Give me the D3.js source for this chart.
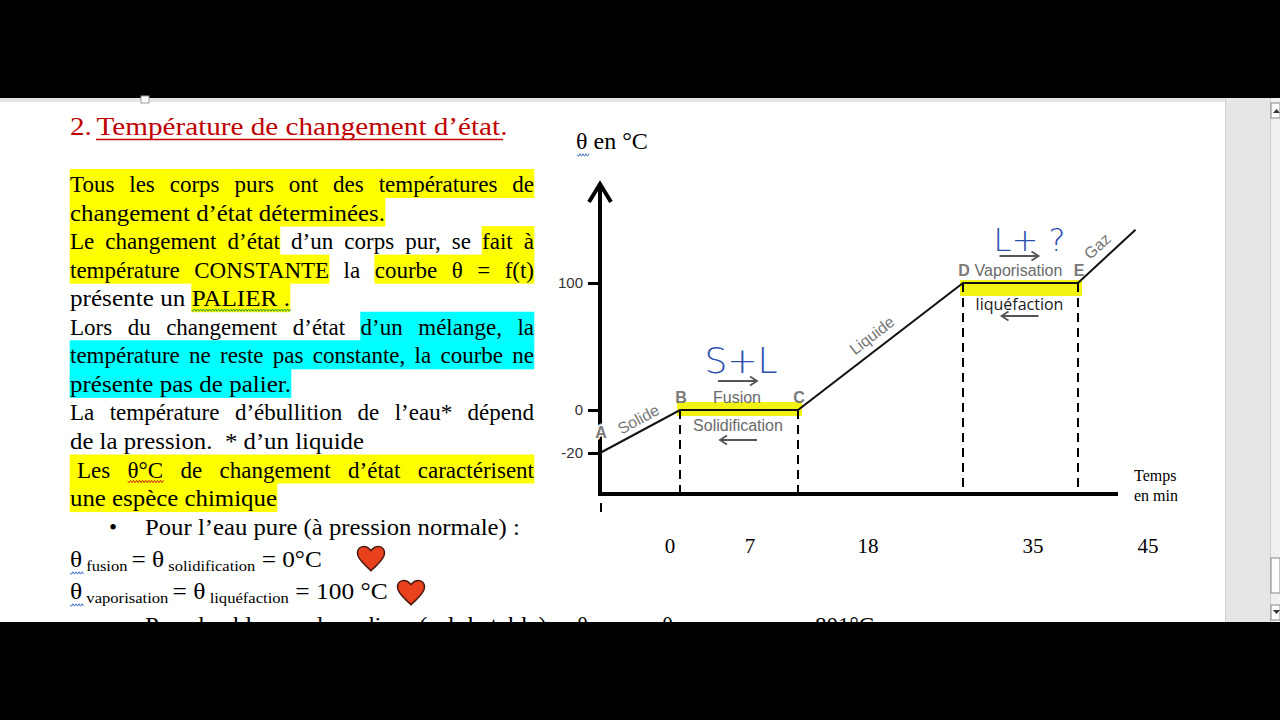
<!DOCTYPE html>
<html>
<head>
<meta charset="utf-8">
<script src="https://cdn.jsdelivr.net/npm/d3@7"></script>
<style>
  html, body { margin: 0; padding: 0; background: #000; overflow: hidden; }
  svg { display: block; }
  text { white-space: pre; }
</style>
</head>
<body>
<svg id="page" width="1280" height="720"></svg>
<script>
// --- chart data (courbe de changement d'état de l'eau) ---
const pointNames = ['A', 'B', 'C', 'D', 'E'];
const timeTicks = [0, 7, 18, 35, 45];          // temps en min (A..E)
const curveTime = [0, 7, 18, 35, 45, 50];
const curveTemp = [-20, 0, 0, 100, 100, 142];
const tempTicks = [-20, 0, 100];
const phaseNames = ['Solide', 'Liquide', 'Gaz']; // segments A-B, C-D, E-...
const phaseSegments = [[0, 1], [2, 3], [4, 5]];
const plateauStart = [1, 3];                    // B-C and D-E
const plateauTop = ['Fusion', 'Vaporisation'];
const plateauBottom = ['Solidification', 'liquéfaction'];
const plateauMix = ['S+L', 'L+ ?'];

// --- document text ---
const docLines = [
  { x0: 70, x1: 534, just: true,  segs: [['Tous les corps purs ont des températures de', 'y']] },
  { x0: 70, x1: 385, just: false, segs: [['changement d’état déterminées.', 'y']] },
  { x0: 70, x1: 534, just: true,  segs: [['Le changement d’état', 'y'], ['d’un corps pur, se', null], ['fait à', 'y']] },
  { x0: 70, x1: 534, just: true,  segs: [['température CONSTANTE', 'y'], ['la', null], ['courbe θ = f(t)', 'y']] },
  { x0: 70, x1: 290, just: false, segs: [['présente un', null], ['PALIER .', 'y']] },
  { x0: 70, x1: 534, just: true,  segs: [['Lors du changement d’état', null], ['d’un mélange, la', 'c']] },
  { x0: 70, x1: 534, just: true,  segs: [['température ne reste pas constante, la courbe ne', 'c']] },
  { x0: 70, x1: 291, just: false, segs: [['présente pas de palier.', 'c']] },
  { x0: 70, x1: 534, just: true,  segs: [['La température d’ébullition de l’eau* dépend', null]] },
  { x0: 70, x1: 364, just: false, segs: [['de la pression.  * d’un liquide', null]] },
  { x0: 77, x1: 534, just: true,  lead: 7, segs: [['Les θ°C de changement d’état caractérisent', 'y']] },
  { x0: 70, x1: 277, just: false, segs: [['une espèce chimique', 'y']] }
];
const hlColor = { y: '#ffff00', c: '#00ffff' };

const svg = d3.select('#page');
const serif = '"Liberation Serif", "Times New Roman", serif';
const sans = '"Liberation Sans", Arial, sans-serif';

// --- window frame ---
svg.append('rect').attr('width', 1280).attr('height', 720).attr('fill', '#000');
svg.append('rect').attr('x', 0).attr('y', 98).attr('width', 1225).attr('height', 524).attr('fill', '#fff');
svg.append('rect').attr('x', 0).attr('y', 98).attr('width', 1270).attr('height', 4).attr('fill', '#e4e4e4');
svg.append('rect').attr('x', 141).attr('y', 96).attr('width', 8).attr('height', 7)
  .attr('fill', '#fff').attr('stroke', '#999').attr('stroke-width', 1);
svg.append('rect').attr('x', 1225).attr('y', 98).attr('width', 45).attr('height', 524).attr('fill', '#e6e6e6');
svg.append('line').attr('x1', 1225.5).attr('x2', 1225.5).attr('y1', 98).attr('y2', 622).attr('stroke', '#d4d4d4');
svg.append('rect').attr('x', 1270).attr('y', 98).attr('width', 10).attr('height', 524).attr('fill', '#f0f0f0');
svg.append('line').attr('x1', 1270.5).attr('x2', 1270.5).attr('y1', 98).attr('y2', 622).attr('stroke', '#cfcfcf');
svg.append('rect').attr('x', 1271).attr('y', 103).attr('width', 9).attr('height', 15).attr('fill', '#fff').attr('stroke', '#888');
svg.append('path').attr('d', 'M1273,113 L1276.5,109 L1280,113 Z').attr('fill', '#333');
svg.append('rect').attr('x', 1271).attr('y', 558).attr('width', 9).attr('height', 35).attr('fill', '#fff').attr('stroke', '#888');
svg.append('rect').attr('x', 1271).attr('y', 605).attr('width', 9).attr('height', 15).attr('fill', '#fff').attr('stroke', '#888');
svg.append('path').attr('d', 'M1273,610 L1276.5,614 L1280,610 Z').attr('fill', '#333');

// --- helpers ---
function wavy(x0, x1, yy, color) {
  let d = `M${x0},${yy}`;
  for (let xx = x0, k = 0; xx < x1; xx += 1.5, k++) d += ` L${xx + 1.5},${yy + (k % 2 ? -1.2 : 1.2)}`;
  svg.append('path').attr('d', d).attr('fill', 'none').attr('stroke', color).attr('stroke-width', 1);
}

function heart(cx, cy, w) {
  const s = w / 2;
  return `M${cx},${cy + s * 0.95} C${cx - s * 0.3},${cy + s * 0.6} ${cx - s},${cy + s * 0.15} ${cx - s},${cy - s * 0.35}` +
    ` C${cx - s},${cy - s * 0.9} ${cx - s * 0.4},${cy - s * 1.05} ${cx},${cy - s * 0.55}` +
    ` C${cx + s * 0.4},${cy - s * 1.05} ${cx + s},${cy - s * 0.9} ${cx + s},${cy - s * 0.35}` +
    ` C${cx + s},${cy + s * 0.15} ${cx + s * 0.3},${cy + s * 0.6} ${cx},${cy + s * 0.95} Z`;
}

function textWidth(str, size, family) {
  const t = svg.append('text').attr('font-family', family).attr('font-size', size).text(str);
  const w = t.node().getComputedTextLength();
  t.remove();
  return w;
}

// fit a text element into [x0, x1]
function fitText(sel, x0, x1, yy) {
  const w = sel.node().getComputedTextLength();
  sel.attr('transform', `translate(${x0},${yy}) scale(${(x1 - x0) / w},1)`);
}

const bodySize = 23;

// lay out one document line, word by word
function layoutLine(line, baseY) {
  const g = svg.append('g').attr('transform', `translate(${line.x0},${baseY})`);
  const hlG = g.append('g'), txG = g.append('g');
  const words = [];
  line.segs.forEach(([t, hl], si) => {
    t.split(' ').forEach(w => { if (w !== '') words.push({ w, hl, si }); else if (words.length) words[words.length - 1].extra = (words[words.length - 1].extra || 0) + 1; });
  });
  const space = textWidth('x x', bodySize, serif) - textWidth('xx', bodySize, serif);
  words.forEach(d => {
    d.el = txG.append('text').attr('font-family', serif).attr('font-size', bodySize).attr('fill', '#000').text(d.w);
    d.width = d.el.node().getComputedTextLength();
  });
  const sumW = d3.sum(words, d => d.width);
  const n = words.length;
  const extraSp = d3.sum(words, d => d.extra || 0) * space;
  const natural = sumW + space * (n - 1) + extraSp;
  const span = line.x1 - line.x0;
  let gap = space, sx = span / natural;
  if (line.just && natural <= span && n > 1) { gap = (span - sumW - extraSp) / (n - 1); sx = 1; }
  let cx = 0;
  words.forEach(d => { d.x = cx; cx += d.width + gap + (d.extra || 0) * space; });
  g.selectAll('g').attr('transform', `scale(${sx},1)`);
  words.forEach(d => d.el.attr('x', d.x));
  words.forEach((d, i) => {
    if (!d.hl) return;
    const next = words[i + 1];
    let x1 = d.x + d.width;
    if (next && next.hl === d.hl && next.si === d.si) x1 = next.x;
    let x0 = d.x;
    if (i === 0 && line.lead) x0 -= line.lead / sx;
    hlG.append('rect').attr('x', x0 - 0.3).attr('y', -23).attr('width', x1 - x0 + 0.6).attr('height', 29)
      .attr('fill', hlColor[d.hl]);
  });
  words.forEach(d => { d.ax = line.x0 + d.x * sx; d.aw = d.width * sx; });
  return words;
}

// --- title ---
const titleRed = '#c00000';
const title = svg.append('text').attr('font-family', serif).attr('font-size', 25).attr('fill', titleRed);
title.append('tspan').text('2.');
title.append('tspan').attr('dx', 4).text('Température de changement d’état.');
fitText(title, 70, 503, 135);
svg.append('line').attr('x1', 96).attr('x2', 503).attr('y1', 139.5).attr('y2', 139.5)
  .attr('stroke', titleRed).attr('stroke-width', 1.3);

// --- body text ---
const base0 = 192, lead = 28.55;
const laid = docLines.map((line, i) => layoutLine(line, base0 + i * lead));

// wavy underlines: PALIER (green), θ°C (red)
const pal = laid[4].filter(d => d.hl);
wavy(pal[0].ax, pal[pal.length - 1].ax + pal[pal.length - 1].aw, base0 + 4 * lead + 4, '#3a9a3a');
const thC = laid[10][1];
wavy(thC.ax, thC.ax + thC.aw, base0 + 10 * lead + 4, '#d02020');

// bullet line
svg.append('text').attr('x', 113).attr('y', 535).attr('text-anchor', 'middle')
  .attr('font-family', serif).attr('font-size', bodySize).text('•');
fitText(svg.append('text').attr('font-family', serif).attr('font-size', bodySize)
  .text('Pour l’eau pure (à pression normale) :'), 145, 520, 535);

// formula lines with subscripts
function formula(parts, x1, yy) {
  const t = svg.append('text').attr('font-family', serif).attr('font-size', bodySize);
  parts.forEach(([s, sub]) => t.append('tspan').attr('font-size', sub === 1 ? 15 : bodySize)
    .attr('dy', sub === 1 ? 4 : sub === -1 ? -4 : 0).text(s));
  fitText(t, 70, x1, yy);
  wavy(70, 83, yy + 6, '#4472c4');
}
formula([['θ', 0], [' fusion ', 1], ['= θ', -1], [' solidification', 1], [' = 0°C', -1]], 322, 567);
formula([['θ', 0], [' vaporisation ', 1], ['= θ', -1], [' liquéfaction', 1], [' = 100 °C', -1]], 388, 599);
svg.append('path').attr('d', heart(371, 558, 27)).attr('fill', '#e8411c').attr('stroke', '#4a1a10').attr('stroke-width', 1.5);
svg.append('path').attr('d', heart(411, 592, 27)).attr('fill', '#e8411c').attr('stroke', '#4a1a10').attr('stroke-width', 1.5);

// partially hidden next line
const nextBase = 633;
svg.append('text').attr('x', 113).attr('y', nextBase).attr('text-anchor', 'middle')
  .attr('font-family', serif).attr('font-size', bodySize).text('•');
fitText(svg.append('text').attr('font-family', serif).attr('font-size', bodySize)
  .text('Pour le chlorure de sodium (sel de table) :'), 145, 560, nextBase);
[['θ', 577], ['θ', 662], ['801°C', 815]].forEach(([s, xx]) =>
  svg.append('text').attr('x', xx).attr('y', nextBase).attr('font-family', serif).attr('font-size', bodySize).text(s));

// --- chart ---
const x = d3.scaleLinear().domain(timeTicks).range([600, 680, 798, 963, 1078]);
const y = d3.scaleLinear().domain(tempTicks).range([453, 410, 283]);
const axisY = 494;
const pts = curveTime.map((t, i) => ({ t, v: curveTemp[i], px: x(t), py: y(curveTemp[i]) }));

const chart = svg.append('g');

// yellow marker highlight on the plateaus
plateauStart.forEach((s, k) => {
  const a = pts[s], b = pts[s + 1];
  const off = k === 0 ? -1 : 5;
  chart.append('path')
    .attr('d', `M${a.px - 3},${a.py + off} L${b.px + 4},${b.py + off}`)
    .attr('stroke', '#f3f300').attr('stroke-width', k === 0 ? 14 : 16).attr('stroke-linecap', 'butt')
    .attr('opacity', 0.92);
});

// axes
chart.append('line').attr('x1', 598).attr('x2', 1118).attr('y1', axisY).attr('y2', axisY)
  .attr('stroke', '#000').attr('stroke-width', 4);
chart.append('line').attr('x1', x(0)).attr('x2', x(0)).attr('y1', 184).attr('y2', axisY + 2)
  .attr('stroke', '#000').attr('stroke-width', 4);
chart.append('path').attr('d', `M${x(0) - 11},${202} L${x(0)},${184} L${x(0) + 11},${202}`)
  .attr('fill', 'none').attr('stroke', '#000').attr('stroke-width', 4).attr('stroke-linejoin', 'miter');
chart.append('line').attr('x1', x(0) + 1).attr('x2', x(0) + 1).attr('y1', axisY + 9).attr('y2', axisY + 18)
  .attr('stroke', '#000').attr('stroke-width', 2);

const yAxis = chart.append('g').attr('transform', `translate(${x(0)},0)`)
  .call(d3.axisLeft(y).tickValues(tempTicks).tickSize(12).tickPadding(5).tickFormat(d => String(d)));
yAxis.select('.domain').remove();
yAxis.selectAll('.tick line').attr('stroke', '#000').attr('stroke-width', 3);
yAxis.selectAll('.tick text').attr('font-family', sans).attr('font-size', 15).attr('fill', '#333');

// dashed verticals from B, C, D, E
pts.slice(1, 5).forEach(p => {
  chart.append('line').attr('x1', p.px).attr('x2', p.px).attr('y1', p.py).attr('y2', axisY)
    .attr('stroke', '#000').attr('stroke-width', 2).attr('stroke-dasharray', '9,6');
});

// curve
chart.append('path').datum(pts)
  .attr('d', d3.line().x(d => d.px).y(d => d.py))
  .attr('fill', 'none').attr('stroke', '#111').attr('stroke-width', 2);

// point letters
pointNames.forEach((nm, i) => {
  const p = pts[i];
  chart.append('text').attr('x', p.px + 1).attr('y', p.py - (i === 0 ? 15 : 7)).attr('text-anchor', 'middle')
    .attr('font-family', sans).attr('font-size', 16).attr('font-weight', 'bold').attr('fill', '#7a7a7a')
    .attr('stroke', '#fff').attr('stroke-width', i === 0 ? 3 : 0).attr('paint-order', 'stroke').text(nm);
});

// phase names along slopes
phaseSegments.forEach(([a, b], k) => {
  const p = pts[a], q = pts[b];
  const ang = Math.atan2(q.py - p.py, q.px - p.px);
  const mx = (p.px + q.px) / 2 + Math.sin(ang) * 14 + (k === 0 ? 5 : 0), my = (p.py + q.py) / 2 - Math.cos(ang) * 14;
  chart.append('text').attr('transform', `translate(${mx},${my}) rotate(${ang * 180 / Math.PI})`)
    .attr('text-anchor', 'middle').attr('dy', '0.35em')
    .attr('font-family', sans).attr('font-size', 16).attr('fill', '#777').text(phaseNames[k]);
});

// plateau labels and arrows
function arrow(x1, x2, yy) {
  const dir = Math.sign(x2 - x1);
  chart.append('path').attr('d', `M${x1},${yy} L${x2},${yy} M${x2 - dir * 7},${yy - 4.5} L${x2},${yy} L${x2 - dir * 7},${yy + 4.5}`)
    .attr('fill', 'none').attr('stroke', '#555').attr('stroke-width', 1.8);
}
plateauStart.forEach((s, k) => {
  const a = pts[s], b = pts[s + 1];
  const mid = (a.px + b.px) / 2;
  chart.append('text').attr('x', mid - 2).attr('y', a.py - 7).attr('text-anchor', 'middle')
    .attr('font-family', sans).attr('font-size', 16).attr('fill', '#6a6a6a').text(plateauTop[k]);
  chart.append('text').attr('x', mid - 1).attr('y', a.py + (k === 0 ? 21 : 27)).attr('text-anchor', 'middle')
    .attr('font-family', k === 0 ? sans : '"Open Sans", sans-serif').attr('font-size', 16)
    .attr('fill', k === 0 ? '#6a6a6a' : '#1a1a1a').text(plateauBottom[k]);
  arrow(mid - 21, mid + 18, a.py - (k === 0 ? 29 : 27));
  arrow(mid + 18, mid - 19, a.py + (k === 0 ? 30 : 33));
  chart.append('text').attr('x', mid + (k === 0 ? 2 : 9)).attr('y', a.py - (k === 0 ? 37 : 32)).attr('text-anchor', 'middle')
    .attr('font-family', '"DejaVu Sans", sans-serif').attr('font-weight', 200)
    .attr('font-size', k === 0 ? 36 : 32).attr('fill', '#2c4fae').text(plateauMix[k]);
});

// axis titles
chart.append('text').attr('x', 576).attr('y', 149).attr('font-family', serif).attr('font-size', 24).attr('fill', '#000')
  .text('θ en °C');
wavy(577, 589, 155, '#4472c4');
chart.append('text').attr('x', 1134).attr('y', 481).attr('font-family', serif).attr('font-size', 16).text('Temps');
chart.append('text').attr('x', 1134).attr('y', 501).attr('font-family', serif).attr('font-size', 16).text('en min');

// time labels (written in the document, shifted to the right of the points)
chart.selectAll('.tlab').data(timeTicks).enter().append('text')
  .attr('class', 'tlab').attr('x', d => x(d) + 70).attr('y', 553).attr('text-anchor', 'middle')
  .attr('font-family', serif).attr('font-size', 21).attr('fill', '#000').text(d => d);

// bottom black band of the screen
svg.append('rect').attr('x', 0).attr('y', 622).attr('width', 1280).attr('height', 98).attr('fill', '#000');
</script>
</body>
</html>
